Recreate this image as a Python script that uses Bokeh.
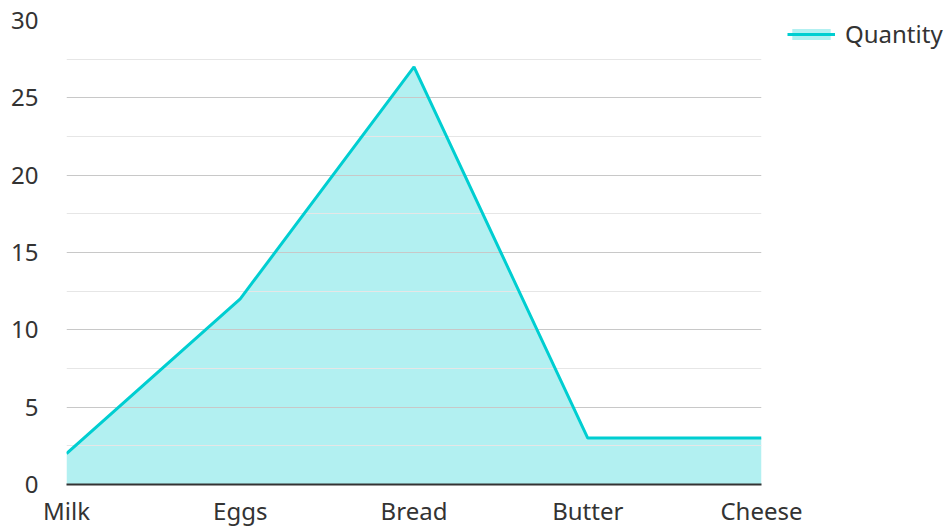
from bokeh.plotting import figure
from bokeh.models import Range1d, FixedTicker, Legend, LegendItem
from bokeh.embed import file_html
from bokeh.resources import INLINE

categories = ["Milk", "Eggs", "Bread", "Butter", "Cheese"]
quantity = [2, 12, 27, 3, 3]
y_ticks = [0, 5, 10, 15, 20, 25, 30]
y_minor = [2.5, 7.5, 12.5, 17.5, 22.5, 27.5]

LINE = "#00CED1"
FONT = "Noto Sans"
FS = "24px"

xs = list(range(len(categories)))

p = figure(frame_width=695, frame_height=464, output_backend="svg", toolbar_location=None,
           x_range=Range1d(0, len(categories) - 1), y_range=Range1d(0, 30),
           min_border_left=66, min_border_right=0, min_border_top=20, min_border_bottom=42)
p.outline_line_color = None
p.background_fill_color = "white"

area = p.varea(x=xs, y1=[0] * len(xs), y2=quantity, fill_color=LINE, fill_alpha=0.3)
area.level = "image"
ln = p.line(x=xs, y=quantity, line_color=LINE, line_width=3)

p.xaxis.ticker = FixedTicker(ticks=xs)
p.xaxis.major_label_overrides = {i: c for i, c in enumerate(categories)}
p.xaxis.axis_line_color = "#333333"
p.xaxis.axis_line_width = 2
p.xaxis.major_tick_line_color = None
p.xaxis.minor_tick_line_color = None
p.xaxis.major_label_standoff = 3
p.xaxis.major_label_text_font = FONT
p.xaxis.major_label_text_font_size = FS
p.xaxis.major_label_text_color = "#333333"

p.yaxis.ticker = FixedTicker(ticks=y_ticks, minor_ticks=y_minor)
p.yaxis.axis_line_color = None
p.yaxis.major_tick_line_color = None
p.yaxis.minor_tick_line_color = None
p.yaxis.major_label_standoff = 22
p.yaxis.major_label_text_font = FONT
p.yaxis.major_label_text_font_size = FS
p.yaxis.major_label_text_color = "#333333"

p.xgrid.grid_line_color = None
p.ygrid.grid_line_color = "#c8c8c8"
p.ygrid.grid_line_width = 1
p.ygrid.minor_grid_line_color = "#e6e6e6"
p.ygrid.minor_grid_line_width = 1

legend = Legend(items=[LegendItem(label="Quantity", renderers=[area, ln])],
                location=(26, 434), orientation="vertical",
                glyph_width=48, glyph_height=14, label_text_font=FONT,
                label_text_font_size=FS, label_text_color="#333333",
                border_line_color=None, background_fill_alpha=0,
                padding=0, margin=0, label_standoff=10, spacing=0)
p.add_layout(legend, "right")
p.min_border_right = 188

open("out.html", "w").write(file_html(p, INLINE))
